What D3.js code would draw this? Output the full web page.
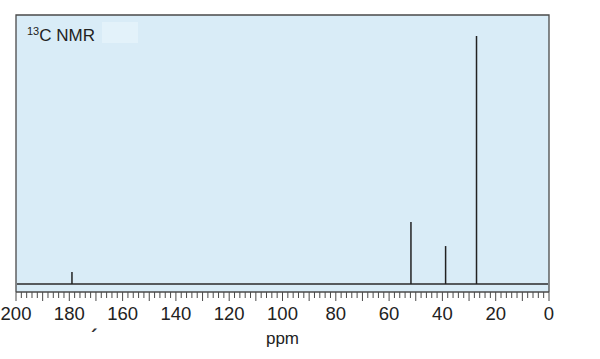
<!DOCTYPE html>
<html><head><meta charset="utf-8">
<script src="https://cdn.jsdelivr.net/npm/d3@7"></script>
<style>html,body{margin:0;padding:0;background:#fff;}svg{display:block;}</style>
</head><body>
<svg id="c" width="600" height="359"></svg>
<script>
// Data (13C NMR, ppm and relative intensity)
const peakShifts = [179.0, 51.8, 38.8, 27.2];
const peakIntensities = [4.8, 25, 15.3, 100];
const majorTicks = [200, 180, 160, 140, 120, 100, 80, 60, 40, 20, 0];
const xLabel = "ppm";
const titleIso = "13";
const titleRest = "C NMR";

const svg = d3.select("#c");
const pLeft = 16, pRight = 549, pTop = 15, axisY = 292;
const x = d3.scaleLinear().domain([200, 0]).range([pLeft, pRight]);
const y = d3.scaleLinear().domain([0, 100]).range([284, 36]);

// panel background
svg.append("rect").attr("x", pLeft).attr("y", pTop).attr("width", pRight - pLeft).attr("height", axisY - pTop)
  .attr("fill", "#d9ecf7").attr("stroke", "none");
// lighter patch next to the label
svg.append("rect").attr("x", 102).attr("y", 22).attr("width", 36).attr("height", 21).attr("fill", "#e3f2fa");
// frame (top, left, right)
svg.append("path").attr("d", `M${pLeft},${axisY}V${pTop}H${pRight}V${axisY}`)
  .attr("fill", "none").attr("stroke", "#4a4a4a").attr("stroke-width", 1.3);

// baseline
svg.append("line").attr("x1", pLeft + 1).attr("x2", pRight - 1).attr("y1", y(0)).attr("y2", y(0))
  .attr("stroke", "#2a2a2a").attr("stroke-width", 1.5);
// peaks
svg.selectAll("line.peak").data(peakShifts.map((s, i) => ({s, v: peakIntensities[i]})))
  .join("line").attr("class", "peak")
  .attr("x1", d => x(d.s)).attr("x2", d => x(d.s))
  .attr("y1", y(0)).attr("y2", d => y(d.v))
  .attr("stroke", "#222").attr("stroke-width", 1.5);

// axis
const minor = d3.range(0, 201, 2);
const ax = svg.append("g");
ax.append("line").attr("x1", pLeft).attr("x2", pRight).attr("y1", axisY).attr("y2", axisY)
  .attr("stroke", "#4a4a4a").attr("stroke-width", 1.3);
ax.selectAll("line.t").data(minor).join("line").attr("class", "t")
  .attr("x1", d => x(d)).attr("x2", d => x(d))
  .attr("y1", axisY).attr("y2", d => axisY + (d % 10 === 0 ? 9 : 6))
  .attr("stroke", "#4a4a4a").attr("stroke-width", 1);
ax.selectAll("text").data(majorTicks).join("text")
  .attr("x", d => x(d)).attr("y", 320).attr("text-anchor", "middle")
  .attr("font-family", "Liberation Sans, Arial, sans-serif").attr("font-size", 18.5)
  .attr("fill", "#222").text(d => d);
svg.append("text").attr("x", (pLeft + pRight) / 2).attr("y", 344).attr("text-anchor", "middle")
  .attr("font-family", "Liberation Sans, Arial, sans-serif").attr("font-size", 17)
  .attr("fill", "#222").text(xLabel);
svg.append("text").attr("x", 88).attr("y", 327).attr("font-family", "DejaVu Sans, sans-serif")
  .attr("font-size", 20).attr("font-weight", "bold").attr("fill", "#333").text("ˏ");

// title
const t = svg.append("text").attr("x", 27).attr("y", 41)
  .attr("font-family", "Liberation Sans, Arial, sans-serif").attr("fill", "#222");
t.append("tspan").attr("font-size", 11).attr("dy", -6).text(titleIso);
t.append("tspan").attr("font-size", 17).attr("dy", 6).text(titleRest);
</script>
</body></html>
